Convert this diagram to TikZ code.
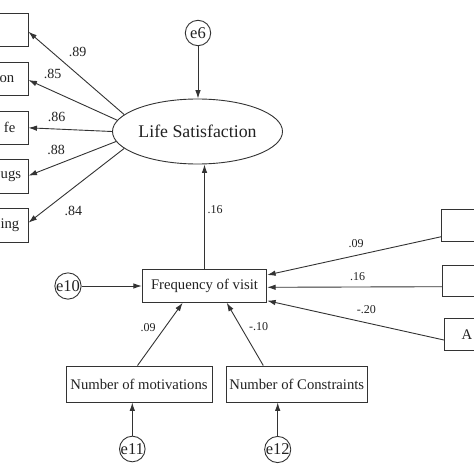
\documentclass[tikz,border=0pt]{standalone}
\usepackage{fontspec}
\setmainfont{Liberation Serif}
\usetikzlibrary{arrows.meta,shapes.geometric}
\definecolor{ln}{HTML}{333333}
\definecolor{tx}{HTML}{222222}
\tikzset{
  boxst/.style={draw=ln,line width=0.9pt,rectangle,inner sep=0pt,text=tx,font=\fontsize{14.7}{16}\selectfont},
  errst/.style={draw=ln,line width=0.9pt,circle,inner sep=0pt,minimum size=25.4pt,text=tx,font=\fontsize{16.5}{18}\selectfont},
  frag/.style={inner sep=0pt,text=tx,font=\fontsize{14.7}{16}\selectfont},
  conn/.style={draw=ln,line width=0.9pt,-{Latex[length=8.5pt,width=5.5pt]}},
  bigl/.style={inner sep=0pt,text=tx,font=\fontsize{14}{16}\selectfont},
  smalll/.style={inner sep=0pt,text=tx,font=\fontsize{12}{14}\selectfont}
}
\begin{document}
\begin{tikzpicture}[x=1pt,y=-1pt]
\useasboundingbox (0,0) rectangle (474,474);
\clip (0,0) rectangle (474,474);
\fill[white] (0,0) rectangle (474,474);
% left indicator boxes
\node[boxst,minimum width=96pt,minimum height=33.4pt] (b1) at (-20,30) {};
\node[boxst,minimum width=96pt,minimum height=33.4pt] (b2) at (-20,79) {};
\node[boxst,minimum width=96pt,minimum height=33.4pt] (b3) at (-20,127.8) {};
\node[boxst,minimum width=96pt,minimum height=33.4pt] (b4) at (-20,176.6) {};
\node[boxst,minimum width=96pt,minimum height=33.4pt] (b5) at (-20,225.4) {};
\node[frag,anchor=east] (t2) at (14.5,79) {on};
\node[frag,anchor=east] (t3) at (15.5,127.8) {fe};
\node[frag,anchor=west] (t4) at (0.5,176.6) {ugs};
\node[frag,anchor=east] (t5) at (19.5,225.4) {ing};
% latent
\node[draw=ln,line width=0.9pt,ellipse,inner sep=0pt,minimum width=170pt,minimum height=65pt,text=tx,font=\fontsize{17.8}{20}\selectfont] (ls) at (197.5,131.5) {Life Satisfaction};
\node[errst] (e6) at (198,33) {e6};
% frequency
\node[boxst,minimum width=124.4pt,minimum height=33pt] (freq) at (204.5,285.8) {Frequency of visit};
\node[errst] (e10) at (68,286) {e10};
% bottom boxes
\node[boxst,minimum width=146pt,minimum height=36pt] (mot) at (139,384) {Number of motivations};
\node[boxst,minimum width=141.7pt,minimum height=36pt] (con) at (296.8,384) {Number of Constraints};
\node[errst] (e11) at (132.3,449) {e11};
\node[errst] (e12) at (277.7,449.5) {e12};
% right boxes
\node[boxst,minimum width=100pt,minimum height=32.4pt] (rA) at (491.7,225.5) {};
\node[boxst,minimum width=100pt,minimum height=31.7pt] (rB) at (492.7,280.8) {};
\node[boxst,minimum width=100pt,minimum height=31.7pt] (rC) at (494.3,334.2) {};
\node[frag,anchor=west] (tC) at (461.5,334.2) {A};
% connectors
\draw[conn] (ls.167.3) -- ([yshift=-1.7pt]b1.east);
\draw[conn] (ls.172.4) -- ([yshift=-1pt]b2.east);
\draw[conn] (ls.180) -- (b3.east);
\draw[conn] (ls.187.7) -- ([yshift=0.9pt]b4.east);
\draw[conn] (ls.193.7) -- ([yshift=2.7pt]b5.east);
\draw[conn] (e6) -- (e6 |- ls.north);
\draw[conn] (freq.north) -- (freq.north |- ls.south);
\draw[conn] (e10) -- (freq.west |- e10);
\draw[conn] ([xshift=-1.5pt]mot.north) -- ([xshift=-21.8pt]freq.south);
\draw[conn] ([xshift=-33.5pt]con.north) -- ([xshift=22.2pt]freq.south);
\draw[conn] (e11) -- (e11 |- mot.south);
\draw[conn] (e12) -- (e12 |- con.south);
\draw[conn] ([yshift=-11.2pt]rA.west) -- ([yshift=10.8pt]freq.east);
\draw[conn] ([yshift=-5.9pt]rB.west) -- ([yshift=-1.5pt]freq.east);
\draw[conn] ([yshift=-5.8pt]rC.west) -- ([yshift=-14.9pt]freq.east);
% labels
\node[bigl] (l1) at (77.7,51.7) {.89};
\node[bigl] (l2) at (52.7,74) {.85};
\node[bigl] (l3) at (56.7,116.7) {.86};
\node[bigl] (l4) at (56,150) {.88};
\node[bigl] (l5) at (73.3,210.7) {.84};
\node[smalll] (l6) at (215,210) {.16};
\node[smalll] (l7) at (356,243.7) {.09};
\node[smalll] (l8) at (357.7,277) {.16};
\node[smalll] (l9) at (366.3,309.7) {-.20};
\node[smalll] (l10) at (148,327.7) {.09};
\node[smalll] (l11) at (258.7,327) {-.10};
\end{tikzpicture}
\end{document}
